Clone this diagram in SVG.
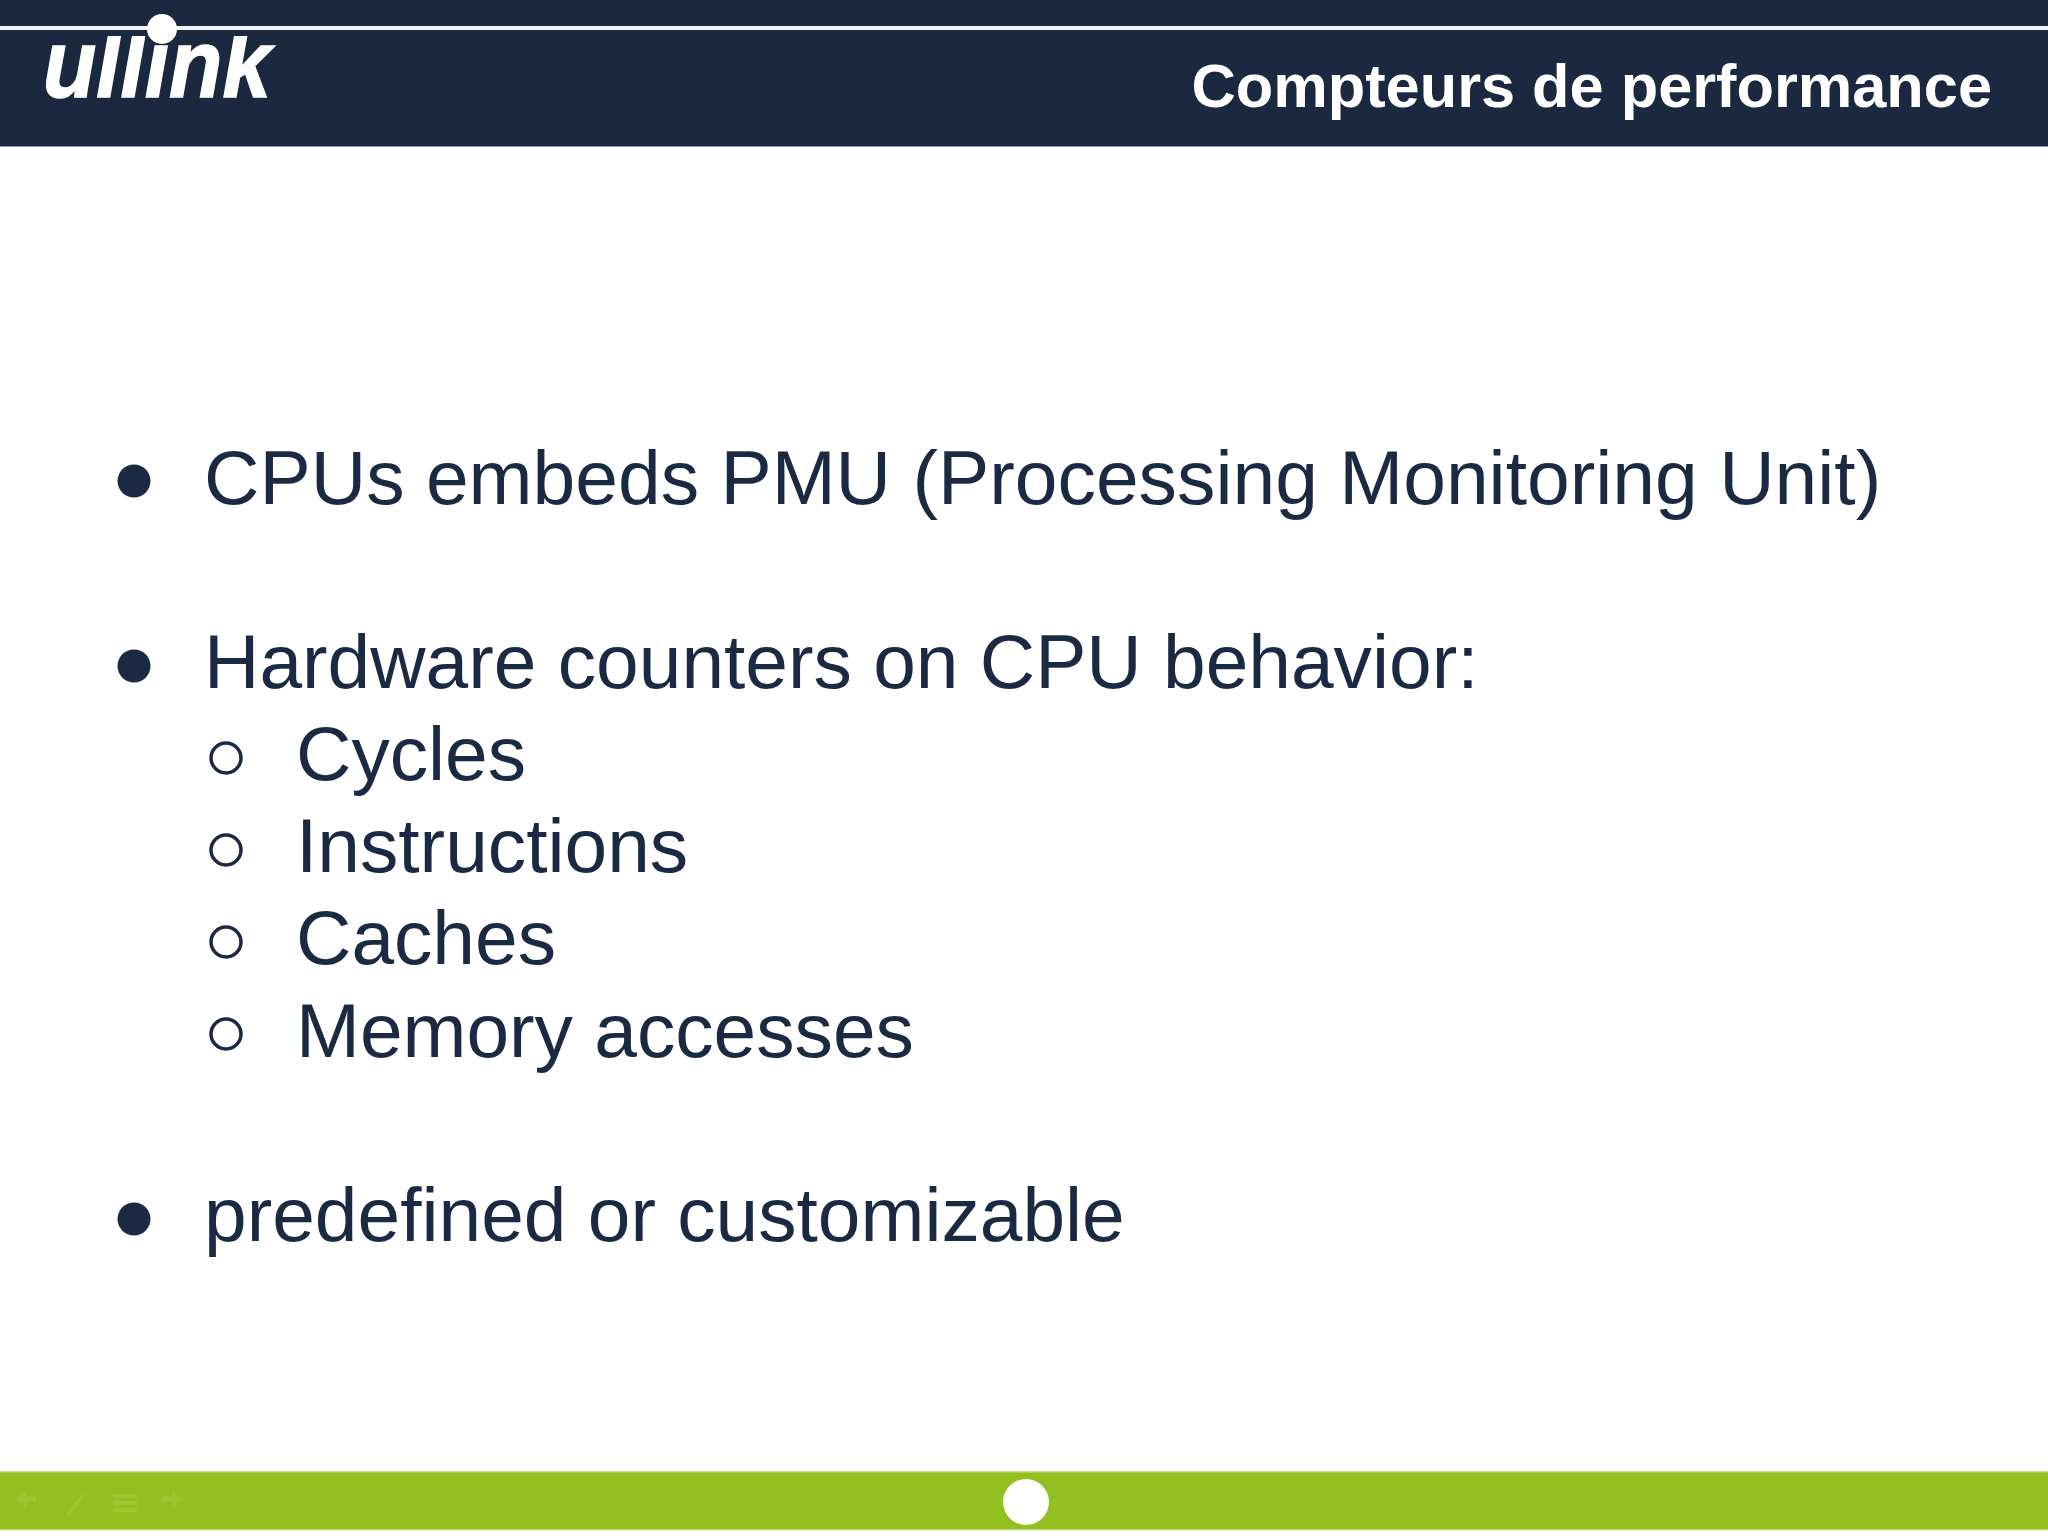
<svg xmlns="http://www.w3.org/2000/svg" width="2048" height="1536" viewBox="0 0 2048 1536">
<style>
.b{font-family:"Liberation Sans",Arial,sans-serif;font-size:76.7px;fill:#1b2a43}
.t{font-family:"Liberation Sans",Arial,sans-serif;font-weight:700;fill:#fff}
.d{fill:#1b2a43}
.o{fill:none;stroke:#1b2a43;stroke-width:3.5}
.i{fill:#a3c93f;opacity:.55}
</style>
<defs><clipPath id="logoClip"><rect x="30" y="36" width="260" height="70"/></clipPath></defs>
<rect width="2048" height="1536" fill="#fff"/>
<g id="header">
<rect width="2048" height="146" fill="#1a2840"/>
<rect y="146" width="2048" height="1" fill="#8f98a8"/>
<rect y="26" width="2048" height="4" fill="#f4f5f8"/>
<g clip-path="url(#logoClip)"><text class="t" x="43" y="97" font-size="96" font-style="italic" textLength="228" lengthAdjust="spacingAndGlyphs" stroke="#fff" stroke-width="1.5">ullink</text></g>
<circle cx="162" cy="29" r="15" fill="#fff"/>
<text class="t" x="1992" y="107" font-size="61.3" text-anchor="end">Compteurs de performance</text>
</g>
<g id="content">
<circle class="d" cx="134" cy="666" r="16.5"/>
<circle class="d" cx="134" cy="481" r="16.5"/>
<circle class="d" cx="134" cy="1219" r="16.5"/>
<circle class="o" cx="226" cy="758" r="15"/>
<circle class="o" cx="226" cy="850" r="15"/>
<circle class="o" cx="226" cy="942" r="15"/>
<circle class="o" cx="226" cy="1034" r="15"/>
<text class="b" x="204" y="504" style="font-size:76.8px">CPUs embeds PMU (Processing Monitoring Unit)</text>
<text class="b" x="204" y="688">Hardware counters on CPU behavior:</text>
<text class="b" x="296" y="780">Cycles</text>
<text class="b" x="296" y="872">Instructions</text>
<text class="b" x="296" y="964">Caches</text>
<text class="b" x="296" y="1057">Memory accesses</text>
<text class="b" x="204" y="1241">predefined or customizable</text>
</g>
<g id="footer">
<rect y="1472" width="2048" height="58" fill="#93c021"/>
<rect y="1471" width="2048" height="1.5" fill="#c5de85"/>
<rect y="1529" width="2048" height="1.5" fill="#c5de85"/>
<circle cx="1026" cy="1502" r="23" fill="#fff"/>
<g id="nav-icons">
<path class="i" d="M16 1499 L26 1490 L26 1496 L36 1496 L36 1502 L26 1502 L26 1508Z"/>
<path class="i" d="M66 1514 L82 1494 L85 1496 L69 1516Z"/>
<rect class="i" x="113" y="1494" width="24" height="4"/><rect class="i" x="113" y="1501" width="24" height="4"/><rect class="i" x="113" y="1508" width="24" height="4"/>
<path class="i" d="M182 1499 L172 1490 L172 1496 L162 1496 L162 1502 L172 1502 L172 1508Z"/>
</g>
</g>
</svg>
